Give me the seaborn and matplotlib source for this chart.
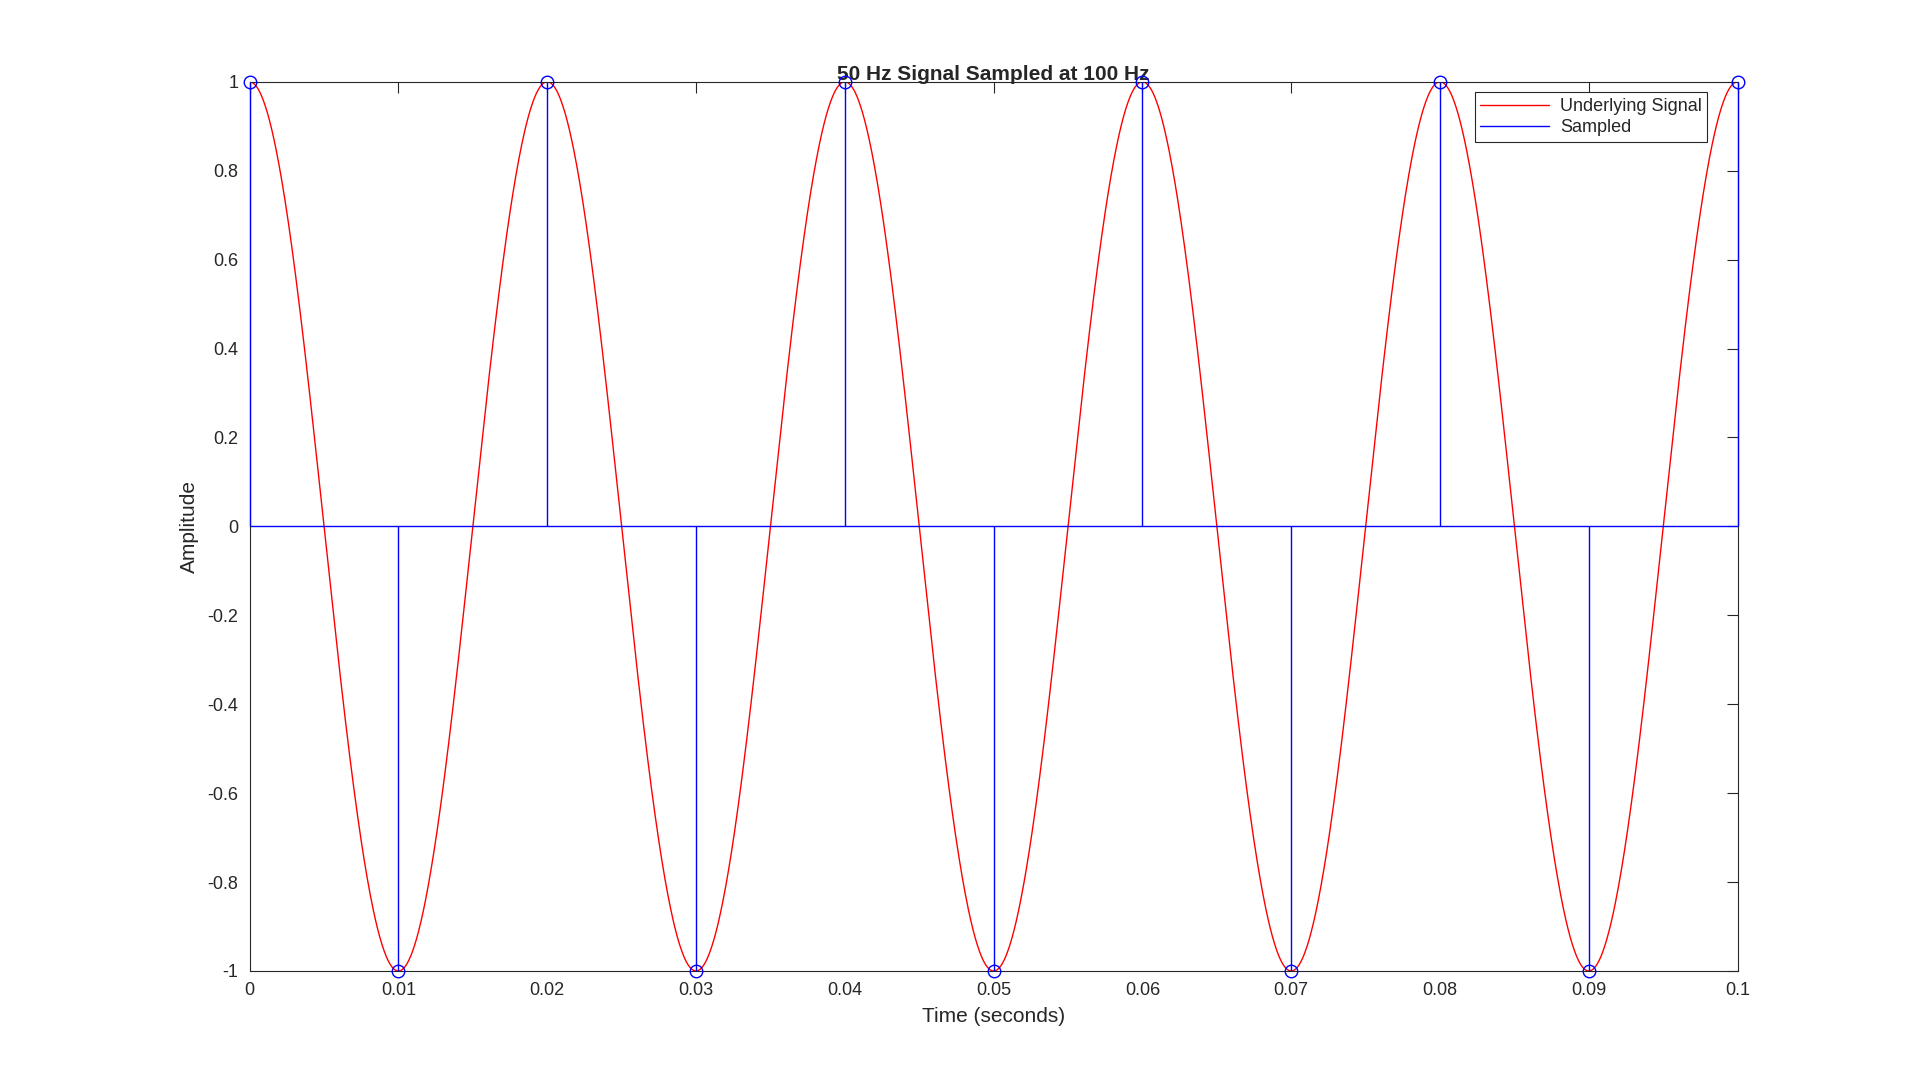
import numpy as np
import matplotlib
matplotlib.use("Agg")
import matplotlib.pyplot as plt
import seaborn as sns
import pandas as pd
from matplotlib.lines import Line2D

signal_freq = 50          # Hz
sample_rate = 100         # Hz
t_end = 0.1
sample_times = [0.0, 0.01, 0.02, 0.03, 0.04, 0.05, 0.06, 0.07, 0.08, 0.09, 0.1]
sample_values = [1, -1, 1, -1, 1, -1, 1, -1, 1, -1, 1]
xticks = [0, 0.01, 0.02, 0.03, 0.04, 0.05, 0.06, 0.07, 0.08, 0.09, 0.1]
xticklabels = ["0", "0.01", "0.02", "0.03", "0.04", "0.05", "0.06", "0.07", "0.08", "0.09", "0.1"]
yticks = [-1, -0.8, -0.6, -0.4, -0.2, 0, 0.2, 0.4, 0.6, 0.8, 1]
yticklabels = ["-1", "-0.8", "-0.6", "-0.4", "-0.2", "0", "0.2", "0.4", "0.6", "0.8", "1"]

sns.set_style("white")
plt.rcParams['font.family'] = ['Arial', 'Liberation Sans', 'DejaVu Sans']
plt.rcParams['xtick.direction'] = 'in'
plt.rcParams['ytick.direction'] = 'in'

t = np.linspace(0, t_end, 2001)
df = pd.DataFrame({"t": t, "y": np.cos(2 * np.pi * signal_freq * t)})

fig = plt.figure(figsize=(19.2, 10.91), dpi=100)
ax = fig.add_axes([0.13, 0.11, 0.775, 0.815])
sns.lineplot(data=df, x="t", y="y", ax=ax, color="red", linewidth=1, zorder=2)
ml, sl, bl = ax.stem(sample_times, sample_values, linefmt="b-", markerfmt="bo", basefmt="b-")
ml.set_markerfacecolor("none")
ml.set_markersize(9)
ml.set_markeredgewidth(1)
ml.set_clip_on(False)
ml.set_zorder(5)
sl.set_linewidth(1)
sl.set_clip_on(False)
sl.set_zorder(4)
bl.set_linewidth(1)

ax.set_xlim(0, t_end)
ax.set_ylim(-1, 1)
ax.set_xticks(xticks)
ax.set_xticklabels(xticklabels)
ax.set_yticks(yticks)
ax.set_yticklabels(yticklabels)
ax.tick_params(labelsize=13, top=True, right=True, length=8, width=0.8, pad=8,
               color="#262626", labelcolor="#262626")
for s in ax.spines.values():
    s.set_color("#262626")
    s.set_linewidth(0.8)
ax.set_xlabel("Time (seconds)", fontsize=15, color="#262626", labelpad=6)
ax.set_ylabel("Amplitude", fontsize=15, color="#262626", labelpad=6)
ax.set_title("50 Hz Signal Sampled at 100 Hz", fontsize=15, fontweight="bold", pad=1)

handles = [Line2D([], [], color="red", lw=1), Line2D([], [], color="blue", lw=1)]
leg = ax.legend(handles, ["Underlying Signal", "Sampled"], loc="upper right",
                bbox_to_anchor=(0.9795, 0.988), fontsize=13, fancybox=False,
                edgecolor="#262626", framealpha=1, handlelength=3.8, borderpad=0.3,
                labelspacing=0.25, handletextpad=0.6, borderaxespad=0)
leg.get_frame().set_linewidth(0.8)
fig.savefig("out.png", dpi=100)
